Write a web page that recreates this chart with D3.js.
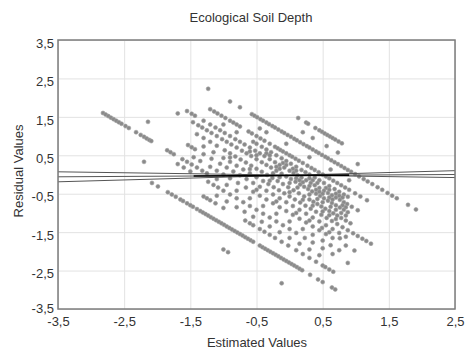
<!DOCTYPE html>
<html><head><meta charset="utf-8">
<script src="https://cdn.jsdelivr.net/npm/d3@7"></script>
<style>body{margin:0;background:#fff}svg{display:block}text{font-family:"Liberation Sans",Arial,sans-serif}</style>
</head><body><svg id="c" width="474" height="361"></svg>
<script>
// ---- data ----
const xTicks = [-3.5, -2.5, -1.5, -0.5, 0.5, 1.5, 2.5];
const xTickLabels = ["-3,5", "-2,5", "-1,5", "-0,5", "0,5", "1,5", "2,5"];
const yTicks = [-3.5, -2.5, -1.5, -0.5, 0.5, 1.5, 2.5, 3.5];
const yTickLabels = ["-3,5", "-2,5", "-1,5", "-0,5", "0,5", "1,5", "2,5", "3,5"];
// observed levels (residual = observed - estimated) for each diagonal band
const bandObserved = [1.6, 1.3, 1.0, 0.75, 0.5, 0.3, 0.2, 0.1, 0.0, -0.1, -0.22, -0.35, -0.46, -0.57, -0.77, -0.9, -1.0, -1.22, -1.42, -1.65, -1.87, -2.3, -2.95];
// estimated values
const bandEstimated = [
  [0.13, 0.25, 0.28, 0.39, 0.45, 0.49, 0.53, 0.57, 0.61, 0.65, 0.69, 0.74, 0.79],
  [0.2, 0.35, 0.56, 0.73, 1.03],
  [-1.23, -0.9, -0.75, -0.57, -0.53, -0.49, -0.44, -0.4, -0.35, -0.31, -0.26, -0.22, -0.17, -0.12, -0.08, -0.03, 0.02, 0.07, 0.11, 0.16, 0.21, 0.26, 0.3, 0.35, 0.4, 0.44, 0.49, 0.54, 0.58, 0.63, 0.68, 0.73, 0.78, 0.83, 0.88, 0.93, 0.99, 1.05, 1.12, 1.18, 1.25, 1.33, 1.4, 1.48, 1.55, 1.62, 1.79, 1.91],
  [-0.45, -0.35, -0.05, 0.3, 0.62, 0.9],
  [-1.2, -1.14, -1.09, -1.03, -0.97, -0.9, -0.85, -0.8, -0.75, -0.62, -0.57, -0.5, -0.44, -0.38, -0.3, -0.22, -0.18, -0.14, -0.1, -0.05, 0.0, 0.04, 0.09, 0.14, 0.2, 0.27, 0.33, 0.38, 0.44, 0.5, 0.55, 0.6, 0.66, 0.72, 0.78, 0.84, 0.9, 0.99, 1.07, 1.17],
  [-1.0, -0.8, -0.55, -0.5, -0.42, -0.35, -0.28, -0.2, -0.12, -0.05, 0.02, 0.1, 0.18, 0.24, 0.3, 0.38, 0.45, 0.52, 0.6, 0.68, 0.75, 0.82, 0.88],
  [-0.35, -0.3, -0.1, -0.05, 0.05, 0.1, 0.3, 0.35, 0.42, 0.55, 0.6, 0.7, 0.75, 0.8],
  [-1.55, -1.48, -1.43, -1.3, -1.2, -1.12, -1.05, -0.98, -0.9, -0.82, -0.75, -0.68, -0.6, -0.52, -0.45, -0.38, -0.3, -0.22, -0.15, -0.08, 0.0, 0.06, 0.12, 0.18, 0.25, 0.32, 0.38, 0.45, 0.52, 0.58, 0.64, 0.7, 0.76, 0.82, 0.87, 0.94, 1.03],
  [-0.6, -0.5, -0.2, -0.15, 0.1, 0.15, 0.2, 0.3, 0.4, 0.45, 0.5, 0.6, 0.65, 0.8, 0.85],
  [-1.69, -1.46, -1.38, -1.32, -1.25, -1.18, -1.1, -1.02, -0.95, -0.88, -0.8, -0.72, -0.65, -0.58, -0.5, -0.42, -0.35, -0.28, -0.2, -0.12, -0.05, 0.02, 0.09, 0.16, 0.22, 0.28, 0.34, 0.4, 0.46, 0.52, 0.58, 0.64, 0.7, 0.76, 0.82, 0.88],
  [-0.25, -0.15, 0.0, 0.12, 0.3, 0.42, 0.5, 0.62, 0.7, 0.78, 0.85],
  [-1.4, -1.3, -1.2, -1.1, -0.98, -0.9, -0.82, -0.74, -0.66, -0.58, -0.5, -0.42, -0.34, -0.26, -0.18, -0.1, -0.02, 0.06, 0.14, 0.22, 0.3, 0.36, 0.42, 0.48, 0.54, 0.6, 0.66, 0.72, 0.78, 0.85, 0.92],
  [-0.9, -0.6, -0.3, 0.0, 0.2, 0.35, 0.5, 0.6, 0.7],
  [-1.3, -1.15, -1.0, -0.9, -0.8, -0.7, -0.6, -0.5, -0.4, -0.32, -0.24, -0.16, -0.08, 0.0, 0.08, 0.16, 0.24, 0.32, 0.4, 0.48, 0.56, 0.64, 0.72, 0.8, 0.88, 0.96, 1.03, 1.1, 1.16, 1.23],
  [-2.14, -1.535, -1.48, -1.43, -1.3, -1.18, -1.05, -0.95, -0.85, -0.75, -0.65, -0.55, -0.45, -0.35, -0.25, -0.15, -0.05, 0.05, 0.15, 0.25, 0.35, 0.45, 0.55, 0.65, 0.75, 0.85],
  [-0.5, -0.2, 0.1, 0.3, 0.49, 0.6, 0.76],
  [-1.45, -1.35, -1.2, -1.1, -1.0, -0.9, -0.78, -0.66, -0.55, -0.45, -0.35, -0.25, -0.15, -0.05, 0.05, 0.15, 0.25, 0.35, 0.45, 0.55, 0.65, 0.85, 0.98],
  [-2.82, -2.78, -2.74, -2.7, -2.66, -2.62, -2.58, -2.54, -2.48, -2.43, -2.32, -2.25, -2.2, -2.16, -2.12, -2.09, -1.85, -1.8, -1.75, -1.62, -1.55, -1.48, -1.4, -1.32, -1.25, -1.1, -0.95, -0.8, -0.6, -0.4, -0.2, 0.0, 0.2, 0.35, 0.5, 0.62, 0.75],
  [-1.69, -1.6, -1.5, -1.23, -1.15, -1.08, -1.0, -0.9, -0.8, -0.7, -0.6, -0.5, -0.4, -0.3, -0.2, -0.1, 0.0, 0.1, 0.23, 0.35, 0.5, 0.65, 0.88],
  [-1.1, -0.95, -0.8, -0.68, -0.55, -0.42, -0.3, -0.15, 0.0, 0.15, 0.3, 0.45],
  [-2.2, -1.3, -1.25, -1.2, -1.12, -1.0, -0.67, -0.6, -0.55, -0.45, -0.38, -0.3, -0.22, -0.12, -0.02, 0.1, 0.2, 0.3, 0.4, 0.5, 0.54, 0.6, 0.66],
  [-2.08, -1.99, -1.84, -1.78, -1.72, -1.65, -1.61, -1.55, -1.5, -1.46, -1.4, -1.35, -1.31, -1.27, -1.23, -1.19, -1.15, -1.11, -1.07, -1.03, -0.99, -0.95, -0.91, -0.87, -0.83, -0.79, -0.75, -0.71, -0.67, -0.63, -0.59, -0.55, -0.45, -0.41, -0.37, -0.33, -0.29, -0.25, -0.21, -0.17, -0.13, -0.09, -0.05, -0.01, 0.03, 0.07, 0.11, 0.15, 0.19, 0.31, 0.43, 0.5, 0.64, 0.69],
  [-1.0, -0.93, -0.12]
];
// near-horizontal fitted lines: residual at x=-3.5 and at x=2.5
const lineLeft = [0.07, -0.06, -0.19];
const lineRight = [-0.08, 0.0, 0.10];
const fitRange = [-1.45, 0.9];

// ---- chart ----
const svg = d3.select("#c");
const L = 58, R = 455, T = 40, B = 309;
const x = d3.scaleLinear().domain([-3.5, 2.5]).range([L, R]);
const y = d3.scaleLinear().domain([-3.5, 3.5]).range([B, T]);
const FONT = '"Liberation Sans",Arial,sans-serif';

// gridlines
svg.append("g").attr("transform", `translate(0,${B})`)
  .call(d3.axisBottom(x).tickValues(xTicks).tickSize(-(B - T)).tickFormat(""))
  .call(g => g.select(".domain").remove())
  .call(g => g.selectAll("line").attr("stroke", "#e2e2e2"));
svg.append("g").attr("transform", `translate(${L},0)`)
  .call(d3.axisLeft(y).tickValues(yTicks).tickSize(-(R - L)).tickFormat(""))
  .call(g => g.select(".domain").remove())
  .call(g => g.selectAll("line").attr("stroke", "#e2e2e2"));

// tick labels
svg.append("g").attr("transform", `translate(0,${B})`)
  .call(d3.axisBottom(x).tickValues(xTicks).tickSize(0).tickPadding(8)
    .tickFormat((d, i) => xTickLabels[i]))
  .call(g => g.select(".domain").remove())
  .call(g => g.selectAll("text").attr("fill", "#333").style("font-size", "13px").style("font-family", FONT));
svg.append("g").attr("transform", `translate(${L},0)`)
  .call(d3.axisLeft(y).tickValues(yTicks).tickSize(0).tickPadding(4)
    .tickFormat((d, i) => yTickLabels[i]))
  .call(g => g.select(".domain").remove())
  .call(g => g.selectAll("text").attr("fill", "#333").style("font-size", "13px").style("font-family", FONT)
    .attr("dy", (d, i) => i === 0 ? "0.3em" : "0.55em"));

// points
const pts = [];
bandObserved.forEach((obs, i) => bandEstimated[i].forEach(e => pts.push({ e, r: obs - e })));
svg.append("g").selectAll("circle").data(pts).join("circle")
  .attr("cx", d => x(d.e)).attr("cy", d => y(d.r)).attr("r", 2)
  .attr("fill", "#8a8a8a").attr("stroke", "#a0a0a0").attr("stroke-width", 0.6);

// fitted lines
svg.append("g").selectAll("line").data(lineLeft).join("line")
  .attr("x1", x(-3.5)).attr("y1", d => y(d))
  .attr("x2", x(2.5)).attr("y2", (d, i) => y(lineRight[i]))
  .attr("stroke", "#555").attr("stroke-width", 1);
const mid = t => lineLeft[1] + (lineRight[1] - lineLeft[1]) * (t + 3.5) / 6;
svg.append("line").attr("x1", x(fitRange[0])).attr("y1", y(mid(fitRange[0])))
  .attr("x2", x(fitRange[1])).attr("y2", y(mid(fitRange[1])))
  .attr("stroke", "#000").attr("stroke-width", 1.6);

// frame
svg.append("rect").attr("x", L).attr("y", T).attr("width", R - L).attr("height", B - T)
  .attr("fill", "none").attr("stroke", "#7c7c7c").attr("stroke-width", 1.5);

// titles
svg.append("text").attr("x", 251).attr("y", 22).attr("text-anchor", "middle")
  .attr("fill", "#333").style("font-size", "13px").text("Ecological Soil Depth");
svg.append("text").attr("x", 257).attr("y", 347).attr("text-anchor", "middle")
  .attr("fill", "#333").style("font-size", "13px").text("Estimated Values");
svg.append("text").attr("transform", "translate(23,171) rotate(-90)").attr("text-anchor", "middle")
  .attr("fill", "#333").style("font-size", "13px").text("Residual Values");
</script></body></html>
